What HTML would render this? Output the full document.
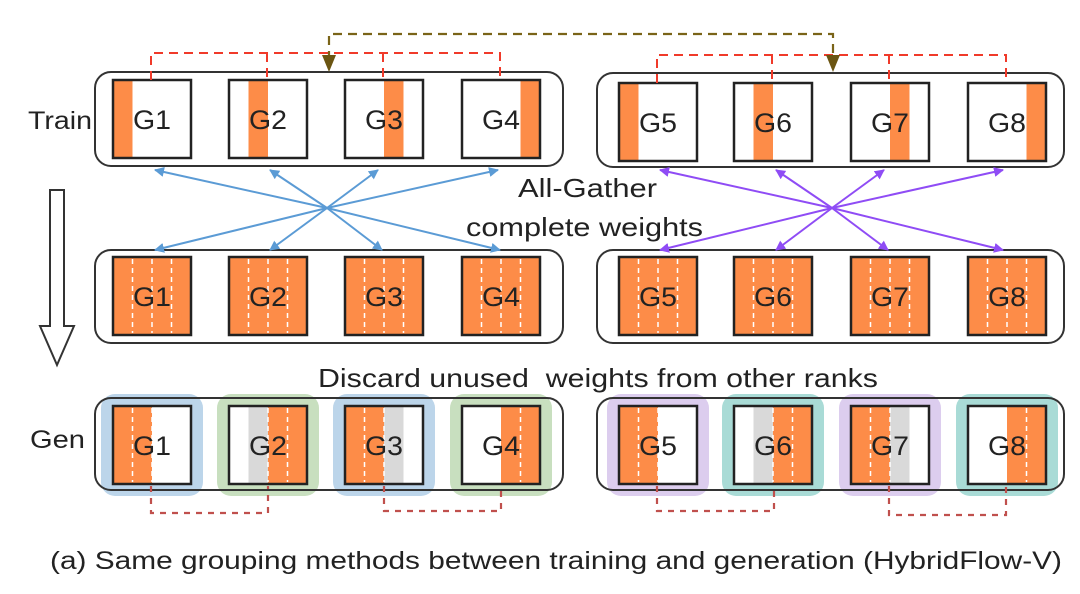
<!DOCTYPE html>
<html><head><meta charset="utf-8"><style>
html,body{margin:0;padding:0;background:#fff;}
svg{display:block;}
text{font-family:"Liberation Sans",sans-serif;fill:#222;}
</style></head><body>
<svg id="s" width="1080" height="594" viewBox="0 0 1080 594" xmlns="http://www.w3.org/2000/svg">
<defs>
<marker id="ab" markerWidth="10" markerHeight="10" refX="9" refY="5" orient="auto" markerUnits="userSpaceOnUse"><path d="M0,0 L10,5 L0,10 Z" fill="#5b9bd5"/></marker>
<marker id="ap" markerWidth="10" markerHeight="10" refX="9" refY="5" orient="auto" markerUnits="userSpaceOnUse"><path d="M0,0 L10,5 L0,10 Z" fill="#8f4cf5"/></marker>
</defs>
<g id="g"></g>
<text x="28" y="129" font-size="25" textLength="64" lengthAdjust="spacingAndGlyphs">Train</text>
<text x="30" y="448" font-size="25" textLength="55" lengthAdjust="spacingAndGlyphs">Gen</text>
<text x="518" y="197" font-size="26" textLength="139" lengthAdjust="spacingAndGlyphs">All-Gather</text>
<text x="466" y="236" font-size="26" textLength="237" lengthAdjust="spacingAndGlyphs">complete weights</text>
<text x="318" y="387" font-size="26" textLength="560" lengthAdjust="spacingAndGlyphs" xml:space="preserve">Discard unused  weights from other ranks</text>
<text x="50" y="569" font-size="25" textLength="1012" lengthAdjust="spacingAndGlyphs">(a) Same grouping methods between training and generation (HybridFlow-V)</text>
</svg>
<script>
const g=document.getElementById('g');let h='';
const O='#fd8c48',GR='#d9d9d9';
const lx=[113,229,345,462], rx=[619,734,851,968];
const W=78;
const hc=['#bcd5ea','#c8dfbf','#bcd5ea','#c8dfbf','#dccdee','#a9dbd6','#dccdee','#a9dbd6'];
const all=lx.concat(rx);
all.forEach((x,i)=>{h+=`<rect x="${x-12}" y="394" width="${W+24}" height="102" rx="14" fill="${hc[i]}"/>`;});
[[95,72,468,94],[597,73,467,94],[95,250,468,93],[597,250,467,93],[95,398,468,92],[597,398,467,92]].forEach(c=>{
h+=`<rect x="${c[0]}" y="${c[1]}" width="${c[2]}" height="${c[3]}" rx="16" fill="none" stroke="#333" stroke-width="2"/>`;});
function box(x,y,stripes,dash,label){
 let s=`<rect x="${x}" y="${y}" width="${W}" height="${W}" fill="#fff"/>`;
 stripes.forEach(st=>{s+=`<rect x="${x+st[0]*W/4}" y="${y}" width="${(st[1]-st[0])*W/4}" height="${W}" fill="${st[2]}"/>`;});
 dash.forEach(d=>{s+=`<line x1="${x+d*W/4}" y1="${y+2}" x2="${x+d*W/4}" y2="${y+W-2}" stroke="#fff" stroke-width="1.5" stroke-dasharray="5,4"/>`;});
 s+=`<rect x="${x}" y="${y}" width="${W}" height="${W}" fill="none" stroke="#222" stroke-width="2.5"/>`;
 s+=`<text x="${x+W/2}" y="${y+W/2+10}" font-size="27" text-anchor="middle" textLength="38" lengthAdjust="spacingAndGlyphs">${label}</text>`;
 return s;}
all.forEach((x,i)=>{const k=i%4;const yt=i<4?80:83;
 h+=box(x,yt,[[k,k+1,O]],[],'G'+(i+1));
 h+=box(x,257,[[0,4,O]],[1,2,3],'G'+(i+1));
 let st,ds;
 if(k==0){st=[[0,2,O]];ds=[1,2];}
 else if(k==1){st=[[1,2,GR],[2,4,O]];ds=[2,3];}
 else if(k==2){st=[[0,2,O],[2,3,GR]];ds=[1,2];}
 else {st=[[2,4,O]];ds=[3];}
 h+=box(x,406,st,ds,'G'+(i+1));
});
function red(xs,y,yb){h+=`<polyline points="${xs[0]},${yb} ${xs[0]},${y} ${xs[3]},${y} ${xs[3]},${yb}" fill="none" stroke="#f03a2a" stroke-width="2" stroke-dasharray="9,6"/>`;
 xs.slice(1,3).forEach(x=>{h+=`<line x1="${x}" y1="${y}" x2="${x}" y2="${yb}" stroke="#f03a2a" stroke-width="2" stroke-dasharray="9,6"/>`;});}
red(lx.map(x=>x+38),53,80); red(rx.map(x=>x+38),55,83);
h+=`<polyline points="329,60 329,34 833,34 833,60" fill="none" stroke="#7a6418" stroke-width="2.2" stroke-dasharray="9,6"/>`;
h+=`<path d="M322,55 L336,55 L329,72 Z" fill="#6b5512"/><path d="M826,55 L840,55 L833,72 Z" fill="#6b5512"/>`;
function fan(cx,cy,pts,c,m){pts.forEach(p=>{h+=`<line x1="${cx}" y1="${cy}" x2="${p[0]}" y2="${p[1]}" stroke="${c}" stroke-width="2" marker-end="url(#${m})"/>`;});}
fan(327,208,[[155,170],[270,170],[378,170],[498,170],[155,250],[270,250],[382,250],[500,250]],'#5b9bd5','ab');
fan(832,208,[[660,170],[776,170],[884,170],[1003,170],[660,250],[776,250],[888,250],[1003,250]],'#8f4cf5','ap');
function dot(a,b,y){h+=`<polyline points="${a},486 ${a},${y} ${b},${y} ${b},486" fill="none" stroke="#c0504d" stroke-width="2.2" stroke-dasharray="6,6"/>`;}
dot(151,268,513);dot(384,501,511);dot(657,774,511);dot(889,1006,515);
h+=`<path d="M50,190 L64,190 L64,326 L74,326 L57,365 L40,326 L50,326 Z" fill="#fff" stroke="#333" stroke-width="2"/>`;
g.innerHTML=h;
</script>
</body></html>
